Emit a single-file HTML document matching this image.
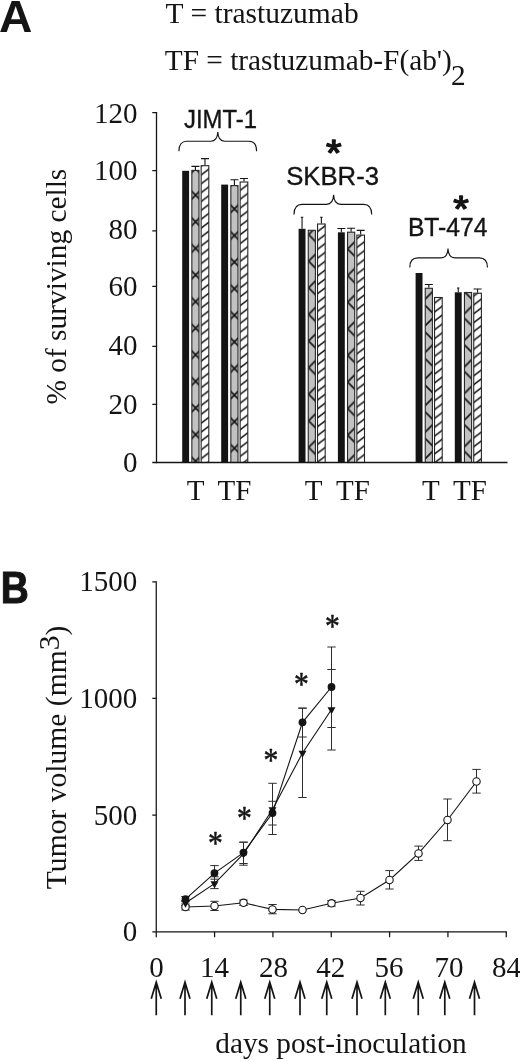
<!DOCTYPE html>
<html lang="en">
<head>
<meta charset="utf-8">
<title>Figure: trastuzumab and trastuzumab-F(ab')2 effects</title>
<style>
html,body{margin:0;padding:0;background:#fff;}
body{width:520px;height:1062px;overflow:hidden;}
svg{display:block;}
text{white-space:pre;}
</style>
</head>
<body>
<svg width="520" height="1062" viewBox="0 0 520 1062">
<rect width="520" height="1062" fill="#fff"/>
<defs>
<pattern id="cx1" patternUnits="userSpaceOnUse" width="26.600" height="26.600" patternTransform="translate(195.60 248.40)"><rect width="26.600" height="26.600" fill="#c2c2c2"/><path d="M-1.000 -1.000 L27.600 27.600 M-1.000 27.600 L27.600 -1.000 M-2 2.000 L2 -2.000 M24.600 28.600 L28.600 24.600 M-2 24.600 L2 28.600 M24.600 -2.000 L28.600 2.000" stroke="#141414" stroke-width="1.7" fill="none"/></pattern>
<pattern id="hx2" patternUnits="userSpaceOnUse" width="11.667" height="8.867" patternTransform="translate(201.40 405.30)"><rect width="11.667" height="8.867" fill="#fff"/><path d="M-1.000 9.627 L12.667 -0.760 M-12.667 9.627 L1.000 -0.760 M10.667 9.627 L24.333 -0.760" stroke="#141414" stroke-width="1.5" fill="none"/></pattern>
<pattern id="cx3" patternUnits="userSpaceOnUse" width="26.600" height="26.600" patternTransform="translate(234.40 235.50)"><rect width="26.600" height="26.600" fill="#c2c2c2"/><path d="M-1.000 -1.000 L27.600 27.600 M-1.000 27.600 L27.600 -1.000 M-2 2.000 L2 -2.000 M24.600 28.600 L28.600 24.600 M-2 24.600 L2 28.600 M24.600 -2.000 L28.600 2.000" stroke="#141414" stroke-width="1.7" fill="none"/></pattern>
<pattern id="hx4" patternUnits="userSpaceOnUse" width="11.667" height="8.867" patternTransform="translate(239.80 385.70)"><rect width="11.667" height="8.867" fill="#fff"/><path d="M-1.000 9.627 L12.667 -0.760 M-12.667 9.627 L1.000 -0.760 M10.667 9.627 L24.333 -0.760" stroke="#141414" stroke-width="1.5" fill="none"/></pattern>
<pattern id="cx5" patternUnits="userSpaceOnUse" width="26.600" height="26.600" patternTransform="translate(308.60 261.20)"><rect width="26.600" height="26.600" fill="#c2c2c2"/><path d="M-1.000 -1.000 L27.600 27.600 M-1.000 27.600 L27.600 -1.000 M-2 2.000 L2 -2.000 M24.600 28.600 L28.600 24.600 M-2 24.600 L2 28.600 M24.600 -2.000 L28.600 2.000" stroke="#141414" stroke-width="1.7" fill="none"/></pattern>
<pattern id="hx6" patternUnits="userSpaceOnUse" width="11.667" height="8.867" patternTransform="translate(317.30 231.80)"><rect width="11.667" height="8.867" fill="#fff"/><path d="M-1.000 9.627 L12.667 -0.760 M-12.667 9.627 L1.000 -0.760 M10.667 9.627 L24.333 -0.760" stroke="#141414" stroke-width="1.5" fill="none"/></pattern>
<pattern id="cx7" patternUnits="userSpaceOnUse" width="26.600" height="26.600" patternTransform="translate(347.60 249.00)"><rect width="26.600" height="26.600" fill="#c2c2c2"/><path d="M-1.000 -1.000 L27.600 27.600 M-1.000 27.600 L27.600 -1.000 M-2 2.000 L2 -2.000 M24.600 28.600 L28.600 24.600 M-2 24.600 L2 28.600 M24.600 -2.000 L28.600 2.000" stroke="#141414" stroke-width="1.7" fill="none"/></pattern>
<pattern id="hx8" patternUnits="userSpaceOnUse" width="11.667" height="8.867" patternTransform="translate(356.50 238.90)"><rect width="11.667" height="8.867" fill="#fff"/><path d="M-1.000 9.627 L12.667 -0.760 M-12.667 9.627 L1.000 -0.760 M10.667 9.627 L24.333 -0.760" stroke="#141414" stroke-width="1.5" fill="none"/></pattern>
<pattern id="cx9" patternUnits="userSpaceOnUse" width="26.600" height="26.600" patternTransform="translate(422.00 302.30)"><rect width="26.600" height="26.600" fill="#c2c2c2"/><path d="M-1.000 -1.000 L27.600 27.600 M-1.000 27.600 L27.600 -1.000 M-2 2.000 L2 -2.000 M24.600 28.600 L28.600 24.600 M-2 24.600 L2 28.600 M24.600 -2.000 L28.600 2.000" stroke="#141414" stroke-width="1.7" fill="none"/></pattern>
<pattern id="hx10" patternUnits="userSpaceOnUse" width="11.667" height="8.867" patternTransform="translate(434.50 303.20)"><rect width="11.667" height="8.867" fill="#fff"/><path d="M-1.000 9.627 L12.667 -0.760 M-12.667 9.627 L1.000 -0.760 M10.667 9.627 L24.333 -0.760" stroke="#141414" stroke-width="1.5" fill="none"/></pattern>
<pattern id="cx11" patternUnits="userSpaceOnUse" width="26.600" height="26.600" patternTransform="translate(475.40 302.70)"><rect width="26.600" height="26.600" fill="#c2c2c2"/><path d="M-1.000 -1.000 L27.600 27.600 M-1.000 27.600 L27.600 -1.000 M-2 2.000 L2 -2.000 M24.600 28.600 L28.600 24.600 M-2 24.600 L2 28.600 M24.600 -2.000 L28.600 2.000" stroke="#141414" stroke-width="1.7" fill="none"/></pattern>
<pattern id="hx12" patternUnits="userSpaceOnUse" width="11.667" height="8.867" patternTransform="translate(473.40 296.30)"><rect width="11.667" height="8.867" fill="#fff"/><path d="M-1.000 9.627 L12.667 -0.760 M-12.667 9.627 L1.000 -0.760 M10.667 9.627 L24.333 -0.760" stroke="#141414" stroke-width="1.5" fill="none"/></pattern>
</defs>
<g id="chartA">
<path d="M195.43 169.90 V166.40 M191.43 166.40 H199.43" stroke="#141414" stroke-width="1.1" fill="none"/>
<path d="M204.97 165.20 V158.60 M200.97 158.60 H208.97" stroke="#141414" stroke-width="1.1" fill="none"/>
<rect x="182.20" y="170.80" width="6.90" height="291.70" fill="#141414"/>
<rect x="191.85" y="170.40" width="7.15" height="292.10" fill="url(#cx1)" stroke="#262626" stroke-width="1.1"/>
<rect x="201.15" y="165.70" width="7.65" height="296.80" fill="url(#hx2)" stroke="#262626" stroke-width="1.1"/>
<path d="M234.43 185.10 V179.80 M230.43 179.80 H238.43" stroke="#141414" stroke-width="1.1" fill="none"/>
<path d="M243.97 181.50 V178.50 M239.97 178.50 H247.97" stroke="#141414" stroke-width="1.1" fill="none"/>
<rect x="221.20" y="184.60" width="6.90" height="277.90" fill="#141414"/>
<rect x="230.85" y="185.60" width="7.15" height="276.90" fill="url(#cx3)" stroke="#262626" stroke-width="1.1"/>
<rect x="240.15" y="182.00" width="7.65" height="280.50" fill="url(#hx4)" stroke="#262626" stroke-width="1.1"/>
<path d="M302.05 228.80 V217.30 M300.80 217.30 H303.30" stroke="#141414" stroke-width="1.1" fill="none"/>
<path d="M321.38 223.50 V217.30 M320.12 217.30 H322.62" stroke="#141414" stroke-width="1.1" fill="none"/>
<rect x="298.60" y="228.80" width="6.90" height="233.70" fill="#141414"/>
<rect x="308.25" y="230.30" width="7.15" height="232.20" fill="url(#cx5)" stroke="#262626" stroke-width="1.1"/>
<rect x="317.55" y="224.00" width="7.65" height="238.50" fill="url(#hx6)" stroke="#262626" stroke-width="1.1"/>
<path d="M341.35 232.30 V228.50 M337.35 228.50 H345.35" stroke="#141414" stroke-width="1.1" fill="none"/>
<path d="M351.12 231.70 V228.30 M347.12 228.30 H355.12" stroke="#141414" stroke-width="1.1" fill="none"/>
<path d="M360.67 234.60 V230.40 M356.67 230.40 H364.67" stroke="#141414" stroke-width="1.1" fill="none"/>
<rect x="337.90" y="232.30" width="6.90" height="230.20" fill="#141414"/>
<rect x="347.55" y="232.20" width="7.15" height="230.30" fill="url(#cx7)" stroke="#262626" stroke-width="1.1"/>
<rect x="356.85" y="235.10" width="7.65" height="227.40" fill="url(#hx8)" stroke="#262626" stroke-width="1.1"/>
<path d="M428.83 287.80 V284.50 M424.83 284.50 H432.83" stroke="#141414" stroke-width="1.1" fill="none"/>
<rect x="415.60" y="273.00" width="6.90" height="189.50" fill="#141414"/>
<rect x="425.25" y="288.30" width="7.15" height="174.20" fill="url(#cx9)" stroke="#262626" stroke-width="1.1"/>
<rect x="434.55" y="297.50" width="7.65" height="165.00" fill="url(#hx10)" stroke="#262626" stroke-width="1.1"/>
<path d="M458.25 292.30 V288.00 M457.00 288.00 H459.50" stroke="#141414" stroke-width="1.1" fill="none"/>
<path d="M477.58 292.70 V289.00 M473.58 289.00 H481.58" stroke="#141414" stroke-width="1.1" fill="none"/>
<rect x="454.80" y="292.30" width="6.90" height="170.20" fill="#141414"/>
<rect x="464.45" y="292.50" width="7.15" height="170.00" fill="url(#cx11)" stroke="#262626" stroke-width="1.1"/>
<rect x="473.75" y="293.20" width="7.65" height="169.30" fill="url(#hx12)" stroke="#262626" stroke-width="1.1"/>
<path d="M156.50 111.90 V463.20" stroke="#141414" stroke-width="1.3" fill="none"/>
<path d="M152.30 462.50 H507.50" stroke="#141414" stroke-width="1.5" fill="none"/>
<path d="M152.30 404.30 H156.50M152.30 346.30 H156.50M152.30 286.40 H156.50M152.30 230.90 H156.50M152.30 170.60 H156.50M152.30 112.55 H156.50" stroke="#141414" stroke-width="1.3" fill="none"/>
<text x="137.4" y="472.30" text-anchor="end" font-family="'Liberation Serif', 'Times New Roman', serif" font-size="29" fill="#141414">0</text>
<text x="137.4" y="413.90" text-anchor="end" font-family="'Liberation Serif', 'Times New Roman', serif" font-size="29" fill="#141414">20</text>
<text x="137.4" y="355.40" text-anchor="end" font-family="'Liberation Serif', 'Times New Roman', serif" font-size="29" fill="#141414">40</text>
<text x="137.4" y="296.30" text-anchor="end" font-family="'Liberation Serif', 'Times New Roman', serif" font-size="29" fill="#141414">60</text>
<text x="137.4" y="238.80" text-anchor="end" font-family="'Liberation Serif', 'Times New Roman', serif" font-size="29" fill="#141414">80</text>
<text x="137.4" y="180.35" text-anchor="end" font-family="'Liberation Serif', 'Times New Roman', serif" font-size="29" fill="#141414">100</text>
<text x="137.4" y="122.70" text-anchor="end" font-family="'Liberation Serif', 'Times New Roman', serif" font-size="29" fill="#141414">120</text>
<text transform="translate(65.7 404.6) rotate(-90)" font-family="'Liberation Serif', 'Times New Roman', serif" font-size="29.4" fill="#141414">% of surviving cells</text>
<text x="195.60" y="500.3" text-anchor="middle" font-family="'Liberation Serif', 'Times New Roman', serif" font-size="29" fill="#141414">T</text>
<text x="234.50" y="500.3" text-anchor="middle" font-family="'Liberation Serif', 'Times New Roman', serif" font-size="29" fill="#141414">TF</text>
<text x="313.60" y="500.3" text-anchor="middle" font-family="'Liberation Serif', 'Times New Roman', serif" font-size="29" fill="#141414">T</text>
<text x="353.00" y="500.3" text-anchor="middle" font-family="'Liberation Serif', 'Times New Roman', serif" font-size="29" fill="#141414">TF</text>
<text x="430.90" y="500.3" text-anchor="middle" font-family="'Liberation Serif', 'Times New Roman', serif" font-size="29" fill="#141414">T</text>
<text x="469.90" y="500.3" text-anchor="middle" font-family="'Liberation Serif', 'Times New Roman', serif" font-size="29" fill="#141414">TF</text>
<path d="M178.90 151.20 C178.90 145.20 180.90 141.20 186.90 141.20 H210.80 C215.30 141.20 217.50 138.20 217.80 132.00 C218.10 138.20 220.30 141.20 224.80 141.20 H248.60 C254.60 141.20 256.60 145.20 256.60 151.20" stroke="#141414" stroke-width="1.15" fill="none"/>
<path d="M294.00 214.40 C294.00 208.40 296.00 204.30 302.00 204.30 H326.60 C331.10 204.30 333.30 201.30 333.60 194.90 C333.90 201.30 336.10 204.30 340.60 204.30 H363.70 C369.70 204.30 371.70 208.40 371.70 214.40" stroke="#141414" stroke-width="1.15" fill="none"/>
<path d="M409.80 267.40 C409.80 261.40 411.80 257.80 417.80 257.80 H441.00 C445.50 257.80 447.70 254.80 448.00 248.60 C448.30 254.80 450.50 257.80 455.00 257.80 H479.40 C485.40 257.80 487.40 261.40 487.40 267.40" stroke="#141414" stroke-width="1.15" fill="none"/>
<text transform="translate(220.50 127.90) scale(0.957 1.06)" text-anchor="middle" font-family="'Liberation Sans', Arial, Helvetica, sans-serif" font-size="25" fill="#141414" stroke="#141414" stroke-width="0.35">JIMT-1</text>
<text transform="translate(332.60 185.30) scale(1.028 1.06)" text-anchor="middle" font-family="'Liberation Sans', Arial, Helvetica, sans-serif" font-size="25" fill="#141414" stroke="#141414" stroke-width="0.35">SKBR-3</text>
<text transform="translate(447.70 236.10) scale(0.988 1.06)" text-anchor="middle" font-family="'Liberation Sans', Arial, Helvetica, sans-serif" font-size="25" fill="#141414" stroke="#141414" stroke-width="0.35">BT-474</text>
<text transform="translate(333.85 165.70) scale(1 0.9)" text-anchor="middle" font-family="'Liberation Sans', Arial, Helvetica, sans-serif" font-size="40" fill="#141414" stroke="#141414" stroke-width="1.5" stroke-linejoin="round">*</text>
<text transform="translate(461.15 221.50) scale(1 0.9)" text-anchor="middle" font-family="'Liberation Sans', Arial, Helvetica, sans-serif" font-size="40" fill="#141414" stroke="#141414" stroke-width="1.5" stroke-linejoin="round">*</text>
</g>
<text transform="translate(-1.1 31.6) scale(1.10 1.07)" font-family="'Liberation Sans', Arial, Helvetica, sans-serif" font-weight="bold" font-size="42" fill="#141414">A</text>
<text x="165.6" y="22.5" font-family="'Liberation Serif', 'Times New Roman', serif" font-size="29.5" fill="#141414">T = trastuzumab</text>
<text x="164.8" y="70.4" font-family="'Liberation Serif', 'Times New Roman', serif" font-size="29.3" fill="#141414">TF = trastuzumab-F(ab')<tspan dy="14.6" dx="-0.9">2</tspan></text>
<g id="chartB">
<text transform="translate(0.8 602.7) scale(0.925 1.048)" font-family="'Liberation Sans', Arial, Helvetica, sans-serif" font-weight="bold" font-size="42" fill="#141414" stroke="#141414" stroke-width="1">B</text>
<path d="M156.25 581.15 V937.35" stroke="#141414" stroke-width="1.25" fill="none"/>
<path d="M152.30 931.75 H506.85" stroke="#141414" stroke-width="1.25" fill="none"/>
<path d="M152.30 815.08 H156.25M152.30 698.42 H156.25M152.30 581.75 H156.25M214.58 931.75 V937.35M272.92 931.75 V937.35M331.25 931.75 V937.35M389.58 931.75 V937.35M447.92 931.75 V937.35M506.25 931.75 V937.35" stroke="#141414" stroke-width="1.25" fill="none"/>
<text x="137.3" y="941.35" text-anchor="end" font-family="'Liberation Serif', 'Times New Roman', serif" font-size="29" fill="#141414">0</text>
<text x="137.3" y="824.68" text-anchor="end" font-family="'Liberation Serif', 'Times New Roman', serif" font-size="29" fill="#141414">500</text>
<text x="137.3" y="708.02" text-anchor="end" font-family="'Liberation Serif', 'Times New Roman', serif" font-size="29" fill="#141414">1000</text>
<text x="137.3" y="591.35" text-anchor="end" font-family="'Liberation Serif', 'Times New Roman', serif" font-size="29" fill="#141414">1500</text>
<text x="156.40" y="977.4" text-anchor="middle" font-family="'Liberation Serif', 'Times New Roman', serif" font-size="29" fill="#141414">0</text>
<text x="214.58" y="977.4" text-anchor="middle" font-family="'Liberation Serif', 'Times New Roman', serif" font-size="29" fill="#141414">14</text>
<text x="273.42" y="977.4" text-anchor="middle" font-family="'Liberation Serif', 'Times New Roman', serif" font-size="29" fill="#141414">28</text>
<text x="330.75" y="977.4" text-anchor="middle" font-family="'Liberation Serif', 'Times New Roman', serif" font-size="29" fill="#141414">42</text>
<text x="389.08" y="977.4" text-anchor="middle" font-family="'Liberation Serif', 'Times New Roman', serif" font-size="29" fill="#141414">56</text>
<text x="449.12" y="977.4" text-anchor="middle" font-family="'Liberation Serif', 'Times New Roman', serif" font-size="29" fill="#141414">70</text>
<text x="506.60" y="977.4" text-anchor="middle" font-family="'Liberation Serif', 'Times New Roman', serif" font-size="29" fill="#141414">84</text>
<text transform="translate(65.6 889.2) rotate(-90)" font-family="'Liberation Serif', 'Times New Roman', serif" font-size="29.6" fill="#141414">Tumor volume (mm<tspan dy="-6.4">3</tspan><tspan dy="6.4">)</tspan></text>
<text x="215.3" y="1053" font-family="'Liberation Serif', 'Times New Roman', serif" font-size="29.3" fill="#141414">days post-inoculation</text>
<path d="M156.25 1015.2 V982.6 M151.25 998.8 L156.25 982.2 L161.25 998.8" stroke="#141414" stroke-width="1.7" fill="none" stroke-linejoin="miter"/>
<path d="M185.00 1015.2 V982.6 M180.00 998.8 L185.00 982.2 L190.00 998.8" stroke="#141414" stroke-width="1.7" fill="none" stroke-linejoin="miter"/>
<path d="M211.75 1015.2 V982.6 M206.75 998.8 L211.75 982.2 L216.75 998.8" stroke="#141414" stroke-width="1.7" fill="none" stroke-linejoin="miter"/>
<path d="M240.75 1015.2 V982.6 M235.75 998.8 L240.75 982.2 L245.75 998.8" stroke="#141414" stroke-width="1.7" fill="none" stroke-linejoin="miter"/>
<path d="M269.75 1015.2 V982.6 M264.75 998.8 L269.75 982.2 L274.75 998.8" stroke="#141414" stroke-width="1.7" fill="none" stroke-linejoin="miter"/>
<path d="M300.00 1015.2 V982.6 M295.00 998.8 L300.00 982.2 L305.00 998.8" stroke="#141414" stroke-width="1.7" fill="none" stroke-linejoin="miter"/>
<path d="M326.75 1015.2 V982.6 M321.75 998.8 L326.75 982.2 L331.75 998.8" stroke="#141414" stroke-width="1.7" fill="none" stroke-linejoin="miter"/>
<path d="M357.00 1015.2 V982.6 M352.00 998.8 L357.00 982.2 L362.00 998.8" stroke="#141414" stroke-width="1.7" fill="none" stroke-linejoin="miter"/>
<path d="M385.30 1015.2 V982.6 M380.30 998.8 L385.30 982.2 L390.30 998.8" stroke="#141414" stroke-width="1.7" fill="none" stroke-linejoin="miter"/>
<path d="M418.25 1015.2 V982.6 M413.25 998.8 L418.25 982.2 L423.25 998.8" stroke="#141414" stroke-width="1.7" fill="none" stroke-linejoin="miter"/>
<path d="M444.80 1015.2 V982.6 M439.80 998.8 L444.80 982.2 L449.80 998.8" stroke="#141414" stroke-width="1.7" fill="none" stroke-linejoin="miter"/>
<path d="M474.50 1015.2 V982.6 M469.50 998.8 L474.50 982.2 L479.50 998.8" stroke="#141414" stroke-width="1.7" fill="none" stroke-linejoin="miter"/>
<path d="M185.50 904.00 V910.00 M181.30 904.00 H189.70 M181.30 910.00 H189.70" stroke="#2e2e2e" stroke-width="1.00" fill="none"/>
<path d="M214.50 901.30 V910.50 M210.30 901.30 H218.70 M210.30 910.50 H218.70" stroke="#2e2e2e" stroke-width="1.00" fill="none"/>
<path d="M243.50 900.00 V905.50 M239.30 900.00 H247.70 M239.30 905.50 H247.70" stroke="#2e2e2e" stroke-width="1.00" fill="none"/>
<path d="M272.50 904.50 V913.80 M268.30 904.50 H276.70 M268.30 913.80 H276.70" stroke="#2e2e2e" stroke-width="1.00" fill="none"/>
<path d="M331.50 900.50 V906.20 M327.30 900.50 H335.70 M327.30 906.20 H335.70" stroke="#2e2e2e" stroke-width="1.00" fill="none"/>
<path d="M360.50 891.30 V905.00 M356.30 891.30 H364.70 M356.30 905.00 H364.70" stroke="#2e2e2e" stroke-width="1.00" fill="none"/>
<path d="M389.50 870.60 V889.00 M385.30 870.60 H393.70 M385.30 889.00 H393.70" stroke="#2e2e2e" stroke-width="1.00" fill="none"/>
<path d="M418.50 846.10 V860.40 M414.30 846.10 H422.70 M414.30 860.40 H422.70" stroke="#2e2e2e" stroke-width="1.00" fill="none"/>
<path d="M447.50 799.00 V840.70 M443.30 799.00 H451.70 M443.30 840.70 H451.70" stroke="#2e2e2e" stroke-width="1.00" fill="none"/>
<path d="M476.50 769.40 V793.10 M472.30 769.40 H480.70 M472.30 793.10 H480.70" stroke="#2e2e2e" stroke-width="1.00" fill="none"/>
<path d="M185.50 900.50 V905.50 M181.30 900.50 H189.70 M181.30 905.50 H189.70" stroke="#2e2e2e" stroke-width="1.00" fill="none"/>
<path d="M214.50 876.80 V888.60 M210.30 876.80 H218.70 M210.30 888.60 H218.70" stroke="#2e2e2e" stroke-width="1.00" fill="none"/>
<path d="M243.50 842.20 V865.20 M239.30 842.20 H247.70 M239.30 865.20 H247.70" stroke="#2e2e2e" stroke-width="1.00" fill="none"/>
<path d="M272.50 783.30 V834.50 M268.30 783.30 H276.70 M268.30 834.50 H276.70" stroke="#2e2e2e" stroke-width="1.00" fill="none"/>
<path d="M302.50 708.30 V797.50 M298.30 708.30 H306.70 M298.30 797.50 H306.70" stroke="#2e2e2e" stroke-width="1.00" fill="none"/>
<path d="M331.50 669.50 V750.00 M327.30 669.50 H335.70 M327.30 750.00 H335.70" stroke="#2e2e2e" stroke-width="1.00" fill="none"/>
<path d="M185.50 896.50 V901.70 M181.30 896.50 H189.70 M181.30 901.70 H189.70" stroke="#2e2e2e" stroke-width="1.00" fill="none"/>
<path d="M214.50 865.60 V879.20 M210.30 865.60 H218.70 M210.30 879.20 H218.70" stroke="#2e2e2e" stroke-width="1.00" fill="none"/>
<path d="M243.50 842.20 V863.50 M239.30 842.20 H247.70 M239.30 863.50 H247.70" stroke="#2e2e2e" stroke-width="1.00" fill="none"/>
<path d="M272.50 801.30 V825.00 M268.30 801.30 H276.70 M268.30 825.00 H276.70" stroke="#2e2e2e" stroke-width="1.00" fill="none"/>
<path d="M302.50 708.00 V737.00 M298.30 708.00 H306.70 M298.30 737.00 H306.70" stroke="#2e2e2e" stroke-width="1.00" fill="none"/>
<path d="M331.50 647.00 V727.50 M327.30 647.00 H335.70 M327.30 727.50 H335.70" stroke="#2e2e2e" stroke-width="1.00" fill="none"/>
<polyline points="185.50,907.00 214.50,906.00 243.50,902.80 272.50,909.40 302.50,910.00 331.50,903.30 360.50,898.00 389.50,880.00 418.50,853.40 447.50,820.00 476.50,781.50" stroke="#141414" stroke-width="1.10" fill="none"/>
<polyline points="185.50,903.00 214.50,883.60 243.50,853.80 272.50,809.50 302.50,753.00 331.50,709.50" stroke="#141414" stroke-width="1.10" fill="none"/>
<polyline points="185.50,899.10 214.50,873.10 243.50,852.60 272.50,813.10 302.50,722.30 331.50,687.00" stroke="#141414" stroke-width="1.10" fill="none"/>
<circle cx="185.50" cy="907.00" r="3.7" fill="#fff" stroke="#141414" stroke-width="1.1"/>
<circle cx="214.50" cy="906.00" r="3.7" fill="#fff" stroke="#141414" stroke-width="1.1"/>
<circle cx="243.50" cy="902.80" r="3.7" fill="#fff" stroke="#141414" stroke-width="1.1"/>
<circle cx="272.50" cy="909.40" r="3.7" fill="#fff" stroke="#141414" stroke-width="1.1"/>
<circle cx="302.50" cy="910.00" r="3.7" fill="#fff" stroke="#141414" stroke-width="1.1"/>
<circle cx="331.50" cy="903.30" r="3.7" fill="#fff" stroke="#141414" stroke-width="1.1"/>
<circle cx="360.50" cy="898.00" r="3.7" fill="#fff" stroke="#141414" stroke-width="1.1"/>
<circle cx="389.50" cy="880.00" r="3.7" fill="#fff" stroke="#141414" stroke-width="1.1"/>
<circle cx="418.50" cy="853.40" r="3.7" fill="#fff" stroke="#141414" stroke-width="1.1"/>
<circle cx="447.50" cy="820.00" r="3.7" fill="#fff" stroke="#141414" stroke-width="1.1"/>
<circle cx="476.50" cy="781.50" r="3.7" fill="#fff" stroke="#141414" stroke-width="1.1"/>
<path d="M181.50 900.70 L189.50 900.70 L185.50 907.80 Z" fill="#141414"/>
<path d="M210.50 881.30 L218.50 881.30 L214.50 888.40 Z" fill="#141414"/>
<path d="M239.50 851.50 L247.50 851.50 L243.50 858.60 Z" fill="#141414"/>
<path d="M268.50 807.20 L276.50 807.20 L272.50 814.30 Z" fill="#141414"/>
<path d="M298.50 750.70 L306.50 750.70 L302.50 757.80 Z" fill="#141414"/>
<path d="M327.50 707.20 L335.50 707.20 L331.50 714.30 Z" fill="#141414"/>
<circle cx="185.50" cy="899.10" r="3.9" fill="#141414"/>
<circle cx="214.50" cy="873.10" r="3.9" fill="#141414"/>
<circle cx="243.50" cy="852.60" r="3.9" fill="#141414"/>
<circle cx="272.50" cy="813.10" r="3.9" fill="#141414"/>
<circle cx="302.50" cy="722.30" r="3.9" fill="#141414"/>
<circle cx="331.50" cy="687.00" r="3.9" fill="#141414"/>
<text transform="translate(215.50 853.80) scale(0.87 1)" text-anchor="middle" font-family="'Liberation Serif', 'Times New Roman', serif" font-size="34" fill="#141414" stroke="#141414" stroke-width="0.55" stroke-linejoin="round">*</text>
<text transform="translate(244.30 829.10) scale(0.87 1)" text-anchor="middle" font-family="'Liberation Serif', 'Times New Roman', serif" font-size="34" fill="#141414" stroke="#141414" stroke-width="0.55" stroke-linejoin="round">*</text>
<text transform="translate(270.80 770.80) scale(0.87 1)" text-anchor="middle" font-family="'Liberation Serif', 'Times New Roman', serif" font-size="34" fill="#141414" stroke="#141414" stroke-width="0.55" stroke-linejoin="round">*</text>
<text transform="translate(301.30 695.30) scale(0.87 1)" text-anchor="middle" font-family="'Liberation Serif', 'Times New Roman', serif" font-size="34" fill="#141414" stroke="#141414" stroke-width="0.55" stroke-linejoin="round">*</text>
<text transform="translate(332.50 637.10) scale(0.87 1)" text-anchor="middle" font-family="'Liberation Serif', 'Times New Roman', serif" font-size="34" fill="#141414" stroke="#141414" stroke-width="0.55" stroke-linejoin="round">*</text>
</g>
</svg>
</body>
</html>
